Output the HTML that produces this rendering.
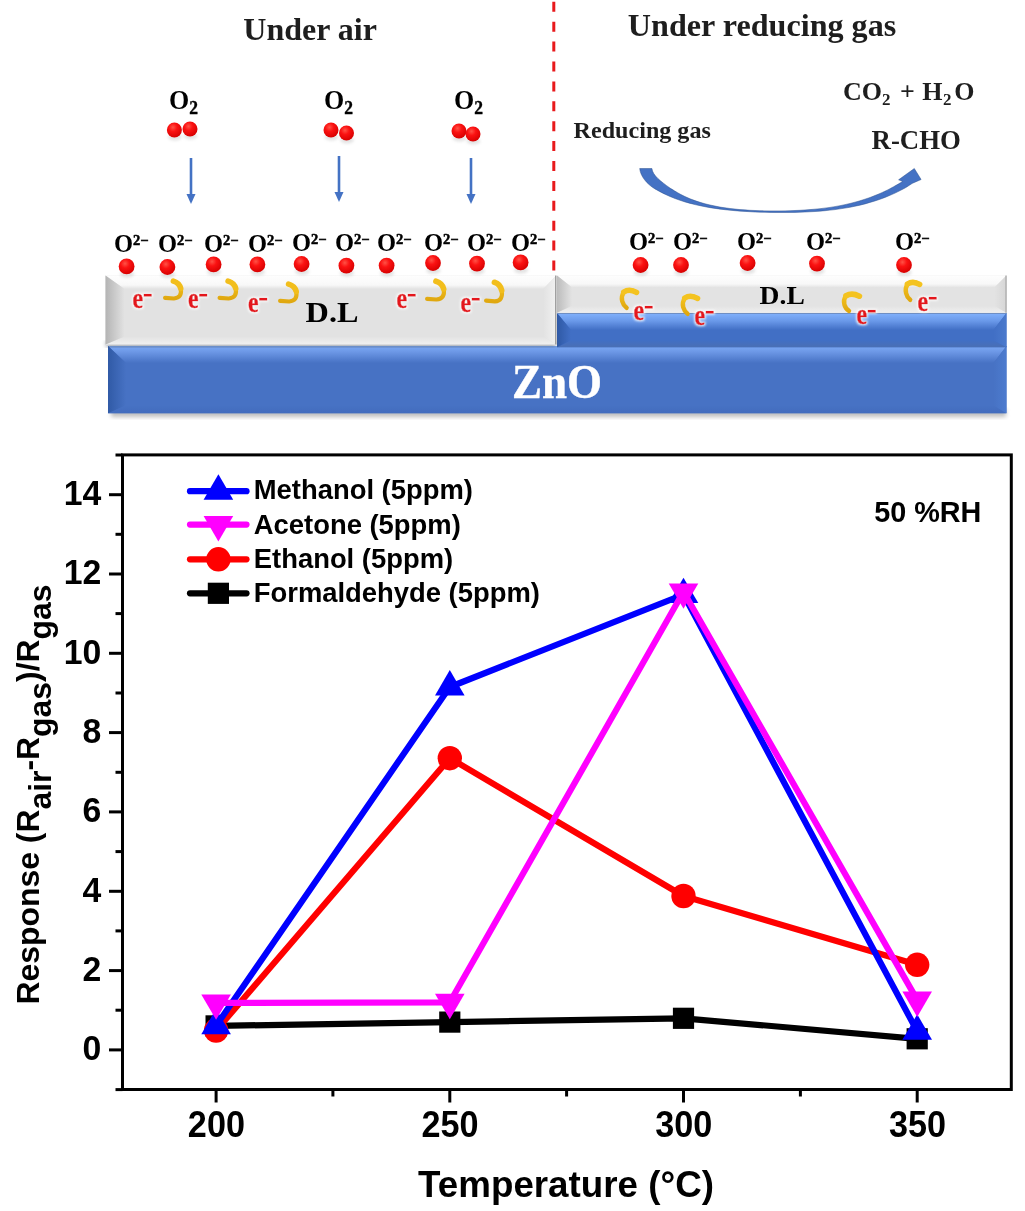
<!DOCTYPE html><html><head><meta charset="utf-8"><title>ZnO gas sensing</title>
<style>html,body{margin:0;padding:0;background:#fff}svg{display:block;filter:blur(0.45px)}.s{font-family:"Liberation Sans",sans-serif;font-weight:bold;fill:#000}.t{font-family:"Liberation Serif",serif;font-weight:bold;fill:#1e1e1e}</style></head><body>
<svg width="1025" height="1211" viewBox="0 0 1025 1211">
<defs>
<radialGradient id="ball" cx="0.4" cy="0.32" r="0.7"><stop offset="0" stop-color="#ff5246"/><stop offset="0.4" stop-color="#fb1212"/><stop offset="1" stop-color="#d60000"/></radialGradient>
<linearGradient id="gface" x1="0" y1="0" x2="0" y2="1"><stop offset="0" stop-color="#ececec"/><stop offset="1" stop-color="#dedede"/></linearGradient>
<linearGradient id="bface" x1="0" y1="0" x2="0" y2="1"><stop offset="0" stop-color="#4b78c8"/><stop offset="1" stop-color="#4370c2"/></linearGradient>
<linearGradient id="gold" x1="0" y1="0" x2="0" y2="1"><stop offset="0" stop-color="#f6c520"/><stop offset="1" stop-color="#e0a810"/></linearGradient>
<filter id="sh" x="-5%" y="-20%" width="110%" height="150%"><feGaussianBlur stdDeviation="2.2"/></filter>
<filter id="glow" x="-40%" y="-40%" width="180%" height="180%"><feMorphology operator="dilate" radius="0.8" in="SourceAlpha" result="d"/><feGaussianBlur in="d" stdDeviation="1.3" result="b"/><feFlood flood-color="#fff" flood-opacity="0.85"/><feComposite in2="b" operator="in" result="g"/><feMerge><feMergeNode in="g"/><feMergeNode in="SourceGraphic"/></feMerge></filter>
<filter id="bsh" x="-30%" y="-30%" width="160%" height="180%"><feGaussianBlur stdDeviation="1.5"/></filter>
</defs>
<rect width="1025" height="1211" fill="#fff"/>
<rect x="111" y="409" width="895" height="8" fill="#8a8a8a" opacity="0.55" filter="url(#sh)"/>
<defs>
<linearGradient id="g1" x1="0" y1="0" x2="0" y2="1"><stop offset="0" stop-color="#7aa8f4"/><stop offset="0.3" stop-color="#6f9ae8"/><stop offset="1" stop-color="#4772c4"/></linearGradient>
<linearGradient id="g2" x1="0" y1="0" x2="1" y2="0"><stop offset="0" stop-color="#305aa6"/><stop offset="1" stop-color="#4772c4"/></linearGradient>
<linearGradient id="g3" x1="0" y1="0" x2="1" y2="0"><stop offset="0" stop-color="#4772c4"/><stop offset="1" stop-color="#4d7ccf"/></linearGradient>
<linearGradient id="g4" x1="0" y1="0" x2="0" y2="1"><stop offset="0" stop-color="#4772c4"/><stop offset="1" stop-color="#426cbd"/></linearGradient>
</defs>
<rect x="108" y="346" width="898.5" height="67.19999999999999" fill="#4772c4"/>
<polygon points="108,413.2 126,405.2 993.5,405.2 1006.5,413.2" fill="url(#g4)"/>
<polygon points="108,346 1006.5,346 993.5,363 126,363" fill="url(#g1)"/>
<polygon points="108,346 126,363 126,405.2 108,413.2" fill="url(#g2)"/>
<polygon points="1006.5,346 1006.5,413.2 993.5,405.2 993.5,363" fill="url(#g3)"/>
<defs>
<linearGradient id="g5" x1="0" y1="0" x2="0" y2="1"><stop offset="0" stop-color="#82b2fd"/><stop offset="0.45" stop-color="#6b9aea"/><stop offset="1" stop-color="#416fc5"/></linearGradient>
<linearGradient id="g6" x1="0" y1="0" x2="1" y2="0"><stop offset="0" stop-color="#2f59a5"/><stop offset="1" stop-color="#416fc5"/></linearGradient>
<linearGradient id="g7" x1="0" y1="0" x2="1" y2="0"><stop offset="0" stop-color="#416fc5"/><stop offset="1" stop-color="#4b7acd"/></linearGradient>
<linearGradient id="g8" x1="0" y1="0" x2="0" y2="1"><stop offset="0" stop-color="#416fc5"/><stop offset="1" stop-color="#4a6fb4"/></linearGradient>
</defs>
<rect x="557" y="313" width="449.5" height="34.19999999999999" fill="#416fc5"/>
<polygon points="557,347.2 571,340.2 993.5,340.2 1006.5,347.2" fill="url(#g8)"/>
<polygon points="557,313 1006.5,313 993.5,330 571,330" fill="url(#g5)"/>
<polygon points="557,313 571,330 571,340.2 557,347.2" fill="url(#g6)"/>
<polygon points="1006.5,313 1006.5,347.2 993.5,340.2 993.5,330" fill="url(#g7)"/>
<rect x="557" y="312.6" width="449.5" height="1.4" fill="#6f8fc4"/>
<rect x="106" y="341.5" width="450" height="5" fill="#4a5568" opacity="0.6" filter="url(#sh)"/>
<defs>
<linearGradient id="g9" x1="0" y1="0" x2="0" y2="1"><stop offset="0" stop-color="#fefefe"/><stop offset="0.7" stop-color="#f8f8f8"/><stop offset="1" stop-color="#e2e2e2"/></linearGradient>
<linearGradient id="g10" x1="0" y1="0" x2="1" y2="0"><stop offset="0" stop-color="#b4b4b4"/><stop offset="1" stop-color="#e2e2e2"/></linearGradient>
<linearGradient id="g11" x1="0" y1="0" x2="1" y2="0"><stop offset="0" stop-color="#e2e2e2"/><stop offset="1" stop-color="#f1f1f1"/></linearGradient>
<linearGradient id="g12" x1="0" y1="0" x2="0" y2="1"><stop offset="0" stop-color="#e2e2e2"/><stop offset="1" stop-color="#f0f0f0"/></linearGradient>
</defs>
<rect x="105.5" y="275.6" width="450.79999999999995" height="68.79999999999995" fill="#e2e2e2"/>
<polygon points="105.5,344.4 124.5,336.4 543.3,336.4 556.3,344.4" fill="url(#g12)"/>
<polygon points="105.5,275.6 556.3,275.6 543.3,289.1 124.5,289.1" fill="url(#g9)"/>
<polygon points="105.5,275.6 124.5,289.1 124.5,336.4 105.5,344.4" fill="url(#g10)"/>
<polygon points="556.3,275.6 556.3,344.4 543.3,336.4 543.3,289.1" fill="url(#g11)"/>
<line x1="555.8" y1="275.6" x2="555.8" y2="344.4" stroke="#8c8c8c" stroke-width="1.2"/>
<defs>
<linearGradient id="g13" x1="0" y1="0" x2="0" y2="1"><stop offset="0" stop-color="#fefefe"/><stop offset="0.7" stop-color="#f8f8f8"/><stop offset="1" stop-color="#e3e3e3"/></linearGradient>
<linearGradient id="g14" x1="0" y1="0" x2="1" y2="0"><stop offset="0" stop-color="#bcbcbc"/><stop offset="1" stop-color="#e3e3e3"/></linearGradient>
<linearGradient id="g15" x1="0" y1="0" x2="1" y2="0"><stop offset="0" stop-color="#e3e3e3"/><stop offset="1" stop-color="#d6d6d6"/></linearGradient>
<linearGradient id="g16" x1="0" y1="0" x2="0" y2="1"><stop offset="0" stop-color="#e3e3e3"/><stop offset="1" stop-color="#efefef"/></linearGradient>
</defs>
<rect x="557" y="275.6" width="449.5" height="37.19999999999999" fill="#e3e3e3"/>
<polygon points="557,312.8 572,305.8 994.5,305.8 1006.5,312.8" fill="url(#g16)"/>
<polygon points="557,275.6 1006.5,275.6 994.5,287.6 572,287.6" fill="url(#g13)"/>
<polygon points="557,275.6 572,287.6 572,305.8 557,312.8" fill="url(#g14)"/>
<polygon points="1006.5,275.6 1006.5,312.8 994.5,305.8 994.5,287.6" fill="url(#g15)"/>
<line x1="1006.0" y1="275.6" x2="1006.0" y2="312.8" stroke="#a8a8a8" stroke-width="1.2"/>
<text transform="translate(557,398) scale(1,1.1)" text-anchor="middle" class="t" style="fill:#fff;stroke:#fff;stroke-width:0.4px;font-size:45px">ZnO</text>
<line x1="553.8" y1="1.8" x2="553.8" y2="271" stroke="#e8191c" stroke-width="3" stroke-dasharray="10 9.9"/>
<text x="243.3" y="40.3" class="t" style="font-size:32px">Under air</text>
<text x="627.8" y="36.1" class="t" style="font-size:32.15px">Under reducing gas</text>
<text x="573.6" y="138" class="t" style="font-size:24.1px">Reducing gas</text>
<text x="843" y="99.5" class="t" style="font-size:26px">CO<tspan dy="5.5" style="font-size:17px">2</tspan><tspan dy="-5.5" dx="3"> +</tspan><tspan dx="1"> H</tspan><tspan dy="5.5" dx="0.5" style="font-size:17px">2</tspan><tspan dy="-5.5" dx="2.6">O</tspan></text>
<text x="871.6" y="149" class="t" style="font-size:26.8px">R-CHO</text>
<text transform="translate(169,109.2) scale(1,1.07)" class="t" style="fill:#000;font-size:26px">O<tspan dy="4.6" style="font-size:17.5px;stroke:#000;stroke-width:0.4px">2</tspan></text>
<ellipse cx="174.9" cy="137.125" rx="6.75" ry="3.375" fill="#777" opacity="0.2" filter="url(#bsh)"/><circle cx="174.4" cy="130" r="7.5" fill="url(#ball)"/>
<ellipse cx="190.5" cy="136.125" rx="6.75" ry="3.375" fill="#777" opacity="0.2" filter="url(#bsh)"/><circle cx="190" cy="129" r="7.5" fill="url(#ball)"/>
<line x1="191" y1="158" x2="191" y2="198" stroke="#4472c4" stroke-width="2.6"/>
<polygon points="186.5,194 195.5,194 191,204" fill="#4472c4"/>
<text transform="translate(324,109.2) scale(1,1.07)" class="t" style="fill:#000;font-size:26px">O<tspan dy="4.6" style="font-size:17.5px;stroke:#000;stroke-width:0.4px">2</tspan></text>
<ellipse cx="331.5" cy="137.125" rx="6.75" ry="3.375" fill="#777" opacity="0.2" filter="url(#bsh)"/><circle cx="331" cy="130" r="7.5" fill="url(#ball)"/>
<ellipse cx="347.0" cy="140.125" rx="6.75" ry="3.375" fill="#777" opacity="0.2" filter="url(#bsh)"/><circle cx="346.5" cy="133" r="7.5" fill="url(#ball)"/>
<line x1="339" y1="156" x2="339" y2="196" stroke="#4472c4" stroke-width="2.6"/>
<polygon points="334.5,192 343.5,192 339,202" fill="#4472c4"/>
<text transform="translate(454,109.2) scale(1,1.07)" class="t" style="fill:#000;font-size:26px">O<tspan dy="4.6" style="font-size:17.5px;stroke:#000;stroke-width:0.4px">2</tspan></text>
<ellipse cx="459.5" cy="138.125" rx="6.75" ry="3.375" fill="#777" opacity="0.2" filter="url(#bsh)"/><circle cx="459" cy="131" r="7.5" fill="url(#ball)"/>
<ellipse cx="473.5" cy="141.125" rx="6.75" ry="3.375" fill="#777" opacity="0.2" filter="url(#bsh)"/><circle cx="473" cy="134" r="7.5" fill="url(#ball)"/>
<line x1="471" y1="158" x2="471" y2="198" stroke="#4472c4" stroke-width="2.6"/>
<polygon points="466.5,194 475.5,194 471,204" fill="#4472c4"/>
<text x="114" y="251.6" class="t" style="fill:#000;font-size:24.5px">O<tspan dy="-7" style="font-size:14.5px;stroke:#000;stroke-width:0.5px">2−</tspan></text>
<text x="158" y="251.6" class="t" style="fill:#000;font-size:24.5px">O<tspan dy="-7" style="font-size:14.5px;stroke:#000;stroke-width:0.5px">2−</tspan></text>
<text x="204" y="251.6" class="t" style="fill:#000;font-size:24.5px">O<tspan dy="-7" style="font-size:14.5px;stroke:#000;stroke-width:0.5px">2−</tspan></text>
<text x="248" y="251.6" class="t" style="fill:#000;font-size:24.5px">O<tspan dy="-7" style="font-size:14.5px;stroke:#000;stroke-width:0.5px">2−</tspan></text>
<text x="292" y="250.6" class="t" style="fill:#000;font-size:24.5px">O<tspan dy="-7" style="font-size:14.5px;stroke:#000;stroke-width:0.5px">2−</tspan></text>
<text x="335" y="250.6" class="t" style="fill:#000;font-size:24.5px">O<tspan dy="-7" style="font-size:14.5px;stroke:#000;stroke-width:0.5px">2−</tspan></text>
<text x="377" y="250.6" class="t" style="fill:#000;font-size:24.5px">O<tspan dy="-7" style="font-size:14.5px;stroke:#000;stroke-width:0.5px">2−</tspan></text>
<text x="424" y="250.6" class="t" style="fill:#000;font-size:24.5px">O<tspan dy="-7" style="font-size:14.5px;stroke:#000;stroke-width:0.5px">2−</tspan></text>
<text x="467" y="250.6" class="t" style="fill:#000;font-size:24.5px">O<tspan dy="-7" style="font-size:14.5px;stroke:#000;stroke-width:0.5px">2−</tspan></text>
<text x="511" y="250.6" class="t" style="fill:#000;font-size:24.5px">O<tspan dy="-7" style="font-size:14.5px;stroke:#000;stroke-width:0.5px">2−</tspan></text>
<text x="629" y="249.5" class="t" style="fill:#000;font-size:24.5px">O<tspan dy="-7" style="font-size:14.5px;stroke:#000;stroke-width:0.5px">2−</tspan></text>
<text x="673" y="249.5" class="t" style="fill:#000;font-size:24.5px">O<tspan dy="-7" style="font-size:14.5px;stroke:#000;stroke-width:0.5px">2−</tspan></text>
<text x="737" y="249.5" class="t" style="fill:#000;font-size:24.5px">O<tspan dy="-7" style="font-size:14.5px;stroke:#000;stroke-width:0.5px">2−</tspan></text>
<text x="806" y="249.5" class="t" style="fill:#000;font-size:24.5px">O<tspan dy="-7" style="font-size:14.5px;stroke:#000;stroke-width:0.5px">2−</tspan></text>
<text x="895" y="249.5" class="t" style="fill:#000;font-size:24.5px">O<tspan dy="-7" style="font-size:14.5px;stroke:#000;stroke-width:0.5px">2−</tspan></text>
<ellipse cx="127.1" cy="273.905" rx="7.11" ry="3.555" fill="#777" opacity="0.2" filter="url(#bsh)"/><circle cx="126.6" cy="266.4" r="7.9" fill="url(#ball)"/>
<ellipse cx="167.9" cy="274.505" rx="7.11" ry="3.555" fill="#777" opacity="0.2" filter="url(#bsh)"/><circle cx="167.4" cy="267" r="7.9" fill="url(#ball)"/>
<ellipse cx="214.1" cy="271.905" rx="7.11" ry="3.555" fill="#777" opacity="0.2" filter="url(#bsh)"/><circle cx="213.6" cy="264.4" r="7.9" fill="url(#ball)"/>
<ellipse cx="257.9" cy="271.905" rx="7.11" ry="3.555" fill="#777" opacity="0.2" filter="url(#bsh)"/><circle cx="257.4" cy="264.4" r="7.9" fill="url(#ball)"/>
<ellipse cx="302.1" cy="271.505" rx="7.11" ry="3.555" fill="#777" opacity="0.2" filter="url(#bsh)"/><circle cx="301.6" cy="264" r="7.9" fill="url(#ball)"/>
<ellipse cx="346.9" cy="273.105" rx="7.11" ry="3.555" fill="#777" opacity="0.2" filter="url(#bsh)"/><circle cx="346.4" cy="265.6" r="7.9" fill="url(#ball)"/>
<ellipse cx="387.1" cy="273.105" rx="7.11" ry="3.555" fill="#777" opacity="0.2" filter="url(#bsh)"/><circle cx="386.6" cy="265.6" r="7.9" fill="url(#ball)"/>
<ellipse cx="433.5" cy="270.505" rx="7.11" ry="3.555" fill="#777" opacity="0.2" filter="url(#bsh)"/><circle cx="433" cy="263" r="7.9" fill="url(#ball)"/>
<ellipse cx="477.5" cy="271.105" rx="7.11" ry="3.555" fill="#777" opacity="0.2" filter="url(#bsh)"/><circle cx="477" cy="263.6" r="7.9" fill="url(#ball)"/>
<ellipse cx="521.1" cy="269.905" rx="7.11" ry="3.555" fill="#777" opacity="0.2" filter="url(#bsh)"/><circle cx="520.6" cy="262.4" r="7.9" fill="url(#ball)"/>
<ellipse cx="641.1" cy="272.505" rx="7.11" ry="3.555" fill="#777" opacity="0.2" filter="url(#bsh)"/><circle cx="640.6" cy="265" r="7.9" fill="url(#ball)"/>
<ellipse cx="681.5" cy="272.505" rx="7.11" ry="3.555" fill="#777" opacity="0.2" filter="url(#bsh)"/><circle cx="681" cy="265" r="7.9" fill="url(#ball)"/>
<ellipse cx="748.1" cy="270.505" rx="7.11" ry="3.555" fill="#777" opacity="0.2" filter="url(#bsh)"/><circle cx="747.6" cy="263" r="7.9" fill="url(#ball)"/>
<ellipse cx="817.5" cy="271.105" rx="7.11" ry="3.555" fill="#777" opacity="0.2" filter="url(#bsh)"/><circle cx="817" cy="263.6" r="7.9" fill="url(#ball)"/>
<ellipse cx="904.5" cy="272.505" rx="7.11" ry="3.555" fill="#777" opacity="0.2" filter="url(#bsh)"/><circle cx="904" cy="265" r="7.9" fill="url(#ball)"/>
<text transform="translate(305.6,322) scale(1.06,1)" class="t" style="fill:#000;font-size:30.5px">D.L</text>
<text transform="translate(759.6,304) scale(1.06,1)" class="t" style="fill:#000;font-size:26px">D.L</text>
<text transform="translate(132.5,308) scale(0.82,1)" x="0" y="0" class="t" filter="url(#glow)" style="fill:#e4141c;stroke:#e4141c;stroke-width:0.7px;font-size:29px">e<tspan dy="-6.6" dx="0.6" style="font-size:18px;stroke-width:1.5px">−</tspan></text>
<text transform="translate(188,308) scale(0.82,1)" x="0" y="0" class="t" filter="url(#glow)" style="fill:#e4141c;stroke:#e4141c;stroke-width:0.7px;font-size:29px">e<tspan dy="-6.6" dx="0.6" style="font-size:18px;stroke-width:1.5px">−</tspan></text>
<text transform="translate(248,312) scale(0.82,1)" x="0" y="0" class="t" filter="url(#glow)" style="fill:#e4141c;stroke:#e4141c;stroke-width:0.7px;font-size:29px">e<tspan dy="-6.6" dx="0.6" style="font-size:18px;stroke-width:1.5px">−</tspan></text>
<text transform="translate(396.5,308) scale(0.82,1)" x="0" y="0" class="t" filter="url(#glow)" style="fill:#e4141c;stroke:#e4141c;stroke-width:0.7px;font-size:29px">e<tspan dy="-6.6" dx="0.6" style="font-size:18px;stroke-width:1.5px">−</tspan></text>
<text transform="translate(460.5,312) scale(0.82,1)" x="0" y="0" class="t" filter="url(#glow)" style="fill:#e4141c;stroke:#e4141c;stroke-width:0.7px;font-size:29px">e<tspan dy="-6.6" dx="0.6" style="font-size:18px;stroke-width:1.5px">−</tspan></text>
<text transform="translate(633.5,320) scale(0.82,1)" x="0" y="0" class="t" filter="url(#glow)" style="fill:#e4141c;stroke:#e4141c;stroke-width:0.7px;font-size:29px">e<tspan dy="-6.6" dx="0.6" style="font-size:18px;stroke-width:1.5px">−</tspan></text>
<text transform="translate(694.5,325) scale(0.82,1)" x="0" y="0" class="t" filter="url(#glow)" style="fill:#e4141c;stroke:#e4141c;stroke-width:0.7px;font-size:29px">e<tspan dy="-6.6" dx="0.6" style="font-size:18px;stroke-width:1.5px">−</tspan></text>
<text transform="translate(856.5,324) scale(0.82,1)" x="0" y="0" class="t" filter="url(#glow)" style="fill:#e4141c;stroke:#e4141c;stroke-width:0.7px;font-size:29px">e<tspan dy="-6.6" dx="0.6" style="font-size:18px;stroke-width:1.5px">−</tspan></text>
<text transform="translate(917.5,311) scale(0.82,1)" x="0" y="0" class="t" filter="url(#glow)" style="fill:#e4141c;stroke:#e4141c;stroke-width:0.7px;font-size:29px">e<tspan dy="-6.6" dx="0.6" style="font-size:18px;stroke-width:1.5px">−</tspan></text>
<path d="M165.1,297.9 L173.9,298.5 Q182.4,297.9 180.7,288.4 Q179.3,282.8 173.4,281.1" fill="none" stroke="url(#gold)" stroke-width="4.2" stroke-linecap="round" stroke-linejoin="round"/><path d="M180.7,288.4 Q179.3,282.8 173.4,281.1" fill="none" stroke="#f2be1c" stroke-width="5.6" stroke-linecap="round"/>
<path d="M219.6,297.9 L228.7,298.5 Q237.4,297.9 235.7,288.4 Q234.2,282.8 228.1,281.1" fill="none" stroke="url(#gold)" stroke-width="4.2" stroke-linecap="round" stroke-linejoin="round"/><path d="M235.7,288.4 Q234.2,282.8 228.1,281.1" fill="none" stroke="#f2be1c" stroke-width="5.6" stroke-linecap="round"/>
<path d="M280.1,300.9 L289.2,301.5 Q297.9,300.9 296.2,291.4 Q294.7,285.8 288.6,284.1" fill="none" stroke="url(#gold)" stroke-width="4.2" stroke-linecap="round" stroke-linejoin="round"/><path d="M296.2,291.4 Q294.7,285.8 288.6,284.1" fill="none" stroke="#f2be1c" stroke-width="5.6" stroke-linecap="round"/>
<path d="M427.1,298.8 L436.4,299.5 Q445.4,298.8 443.7,288.9 Q442.1,283.0 435.9,281.2" fill="none" stroke="url(#gold)" stroke-width="4.2" stroke-linecap="round" stroke-linejoin="round"/><path d="M443.7,288.9 Q442.1,283.0 435.9,281.2" fill="none" stroke="#f2be1c" stroke-width="5.6" stroke-linecap="round"/>
<path d="M486.1,300.7 L494.9,301.4 Q503.4,300.7 501.7,290.4 Q500.3,284.1 494.4,282.3" fill="none" stroke="url(#gold)" stroke-width="4.2" stroke-linecap="round" stroke-linejoin="round"/><path d="M501.7,290.4 Q500.3,284.1 494.4,282.3" fill="none" stroke="#f2be1c" stroke-width="5.6" stroke-linecap="round"/>
<path d="M636.5,292.4 Q629.5,288.4 623.8,292.0 Q620.9,296.4 622.2,301.2 Q623.2,305.2 626.6,307.8" fill="none" stroke="url(#gold)" stroke-width="4.4" stroke-linecap="round" stroke-linejoin="round"/><path d="M636.5,292.4 Q629.5,288.4 623.8,292.0" fill="none" stroke="#f4c320" stroke-width="5.6" stroke-linecap="round"/>
<path d="M697.5,298.4 Q690.5,294.4 684.8,298.0 Q681.9,302.4 683.2,307.2 Q684.2,311.2 687.6,313.8" fill="none" stroke="url(#gold)" stroke-width="4.4" stroke-linecap="round" stroke-linejoin="round"/><path d="M697.5,298.4 Q690.5,294.4 684.8,298.0" fill="none" stroke="#f4c320" stroke-width="5.6" stroke-linecap="round"/>
<path d="M859.4,296.2 Q852.0,292.4 846.0,295.8 Q843.0,300.0 844.4,304.6 Q845.4,308.4 849.0,310.9" fill="none" stroke="url(#gold)" stroke-width="4.4" stroke-linecap="round" stroke-linejoin="round"/><path d="M859.4,296.2 Q852.0,292.4 846.0,295.8" fill="none" stroke="#f4c320" stroke-width="5.6" stroke-linecap="round"/>
<path d="M919.6,284.4 Q912.9,280.4 907.5,284.0 Q904.8,288.4 906.1,293.2 Q907.0,297.2 910.2,299.8" fill="none" stroke="url(#gold)" stroke-width="4.4" stroke-linecap="round" stroke-linejoin="round"/><path d="M919.6,284.4 Q912.9,280.4 907.5,284.0" fill="none" stroke="#f4c320" stroke-width="5.6" stroke-linecap="round"/>
<path d="M651.9,168.5 C652.6,175.5 661,181.5 670.0,188.1 C671.7,189.1 676.7,192.3 680.0,194.1 C683.3,195.9 686.7,197.4 690.0,198.8 C693.3,200.1 696.7,201.3 700.0,202.3 C703.3,203.4 706.7,204.3 710.0,205.0 C713.3,205.8 716.7,206.5 720.0,207.1 C723.3,207.6 726.7,208.1 730.0,208.5 C733.3,208.9 736.7,209.3 740.0,209.6 C743.3,209.8 746.7,210.1 750.0,210.3 C753.3,210.4 756.7,210.6 760.0,210.7 C763.3,210.8 766.7,210.9 770.0,210.9 C773.3,210.9 776.7,210.9 780.0,210.9 C783.3,210.9 786.7,210.8 790.0,210.7 C793.3,210.6 796.7,210.5 800.0,210.3 C803.3,210.1 806.7,209.9 810.0,209.6 C813.3,209.3 816.7,209.0 820.0,208.7 C823.3,208.3 826.7,207.9 830.0,207.4 C833.3,206.9 836.7,206.3 840.0,205.7 C843.3,205.0 846.7,204.3 850.0,203.5 C853.3,202.7 856.7,201.8 860.0,200.8 C863.3,199.8 866.7,198.7 870.0,197.5 C873.3,196.2 876.7,194.9 880.0,193.5 C883.3,192.0 886.2,190.7 890.0,188.7 C893.8,186.7 900.6,182.7 902.7,181.5 L898.6,179.8 L914.3,168.5 L921.1,179.5 L912.6,183.2 C911.3,184.0 907.9,186.3 905.0,188.0 C902.1,189.6 898.3,191.5 895.0,193.1 C891.7,194.6 888.3,196.1 885.0,197.4 C881.7,198.7 878.3,199.9 875.0,200.9 C871.7,202.0 868.3,203.0 865.0,203.9 C861.7,204.8 858.3,205.5 855.0,206.2 C851.7,207.0 848.3,207.6 845.0,208.1 C841.7,208.7 838.3,209.2 835.0,209.6 C831.7,210.0 828.3,210.4 825.0,210.7 C821.7,211.0 818.3,211.3 815.0,211.5 C811.7,211.7 808.3,211.9 805.0,212.0 C801.7,212.2 798.3,212.3 795.0,212.4 C791.7,212.5 788.3,212.5 785.0,212.5 C781.7,212.5 778.3,212.5 775.0,212.5 C771.7,212.5 768.3,212.4 765.0,212.3 C761.7,212.2 758.3,212.1 755.0,212.0 C751.7,211.8 748.3,211.6 745.0,211.4 C741.7,211.2 738.3,211.0 735.0,210.7 C731.7,210.4 728.3,210.1 725.0,209.7 C721.7,209.3 718.3,208.9 715.0,208.4 C711.7,207.9 708.3,207.4 705.0,206.7 C701.7,206.1 698.3,205.4 695.0,204.6 C691.7,203.8 688.3,202.9 685.0,201.9 C681.7,200.9 678.3,199.7 675.0,198.5 C671.7,197.2 668.3,195.8 665.0,194.2 C661.7,192.6 656.7,189.8 655.0,188.9 C647,184.3 640.3,176 639.7,168.5 Z" fill="#4472c4" stroke="#2f528f" stroke-width="0.5" stroke-linejoin="round"/>
<rect x="122.5" y="454.9" width="888.8" height="634.6" fill="none" stroke="#000" stroke-width="3"/>
<line x1="115.5" y1="1089.6" x2="122.5" y2="1089.6" stroke="#000" stroke-width="3"/>
<line x1="109.0" y1="1049.9" x2="122.5" y2="1049.9" stroke="#000" stroke-width="3"/>
<text transform="translate(101.2,1060.2) scale(0.965,1)" text-anchor="end" class="s" style="font-size:35px">0</text>
<line x1="115.5" y1="1010.2" x2="122.5" y2="1010.2" stroke="#000" stroke-width="3"/>
<line x1="109.0" y1="970.6" x2="122.5" y2="970.6" stroke="#000" stroke-width="3"/>
<text transform="translate(101.2,980.9) scale(0.965,1)" text-anchor="end" class="s" style="font-size:35px">2</text>
<line x1="115.5" y1="930.9" x2="122.5" y2="930.9" stroke="#000" stroke-width="3"/>
<line x1="109.0" y1="891.3" x2="122.5" y2="891.3" stroke="#000" stroke-width="3"/>
<text transform="translate(101.2,901.6) scale(0.965,1)" text-anchor="end" class="s" style="font-size:35px">4</text>
<line x1="115.5" y1="851.6" x2="122.5" y2="851.6" stroke="#000" stroke-width="3"/>
<line x1="109.0" y1="811.9" x2="122.5" y2="811.9" stroke="#000" stroke-width="3"/>
<text transform="translate(101.2,822.2) scale(0.965,1)" text-anchor="end" class="s" style="font-size:35px">6</text>
<line x1="115.5" y1="772.3" x2="122.5" y2="772.3" stroke="#000" stroke-width="3"/>
<line x1="109.0" y1="732.6" x2="122.5" y2="732.6" stroke="#000" stroke-width="3"/>
<text transform="translate(101.2,742.9) scale(0.965,1)" text-anchor="end" class="s" style="font-size:35px">8</text>
<line x1="115.5" y1="693.0" x2="122.5" y2="693.0" stroke="#000" stroke-width="3"/>
<line x1="109.0" y1="653.3" x2="122.5" y2="653.3" stroke="#000" stroke-width="3"/>
<text transform="translate(101.2,663.6) scale(0.965,1)" text-anchor="end" class="s" style="font-size:35px">10</text>
<line x1="115.5" y1="613.6" x2="122.5" y2="613.6" stroke="#000" stroke-width="3"/>
<line x1="109.0" y1="574.0" x2="122.5" y2="574.0" stroke="#000" stroke-width="3"/>
<text transform="translate(101.2,584.3) scale(0.965,1)" text-anchor="end" class="s" style="font-size:35px">12</text>
<line x1="115.5" y1="534.3" x2="122.5" y2="534.3" stroke="#000" stroke-width="3"/>
<line x1="109.0" y1="494.7" x2="122.5" y2="494.7" stroke="#000" stroke-width="3"/>
<text transform="translate(101.2,505.0) scale(0.965,1)" text-anchor="end" class="s" style="font-size:35px">14</text>
<line x1="115.5" y1="455.0" x2="122.5" y2="455.0" stroke="#000" stroke-width="3"/>
<line x1="216.1" y1="1089.5" x2="216.1" y2="1102.5" stroke="#000" stroke-width="3"/>
<text transform="translate(216.4,1136.5) scale(0.95,1)" text-anchor="middle" class="s" style="font-size:36px">200</text>
<line x1="332.9" y1="1089.5" x2="332.9" y2="1096.5" stroke="#000" stroke-width="3"/>
<line x1="449.8" y1="1089.5" x2="449.8" y2="1102.5" stroke="#000" stroke-width="3"/>
<text transform="translate(450.1,1136.5) scale(0.95,1)" text-anchor="middle" class="s" style="font-size:36px">250</text>
<line x1="566.6" y1="1089.5" x2="566.6" y2="1096.5" stroke="#000" stroke-width="3"/>
<line x1="683.5" y1="1089.5" x2="683.5" y2="1102.5" stroke="#000" stroke-width="3"/>
<text transform="translate(683.8,1136.5) scale(0.95,1)" text-anchor="middle" class="s" style="font-size:36px">300</text>
<line x1="800.4" y1="1089.5" x2="800.4" y2="1096.5" stroke="#000" stroke-width="3"/>
<line x1="917.2" y1="1089.5" x2="917.2" y2="1102.5" stroke="#000" stroke-width="3"/>
<text transform="translate(917.5,1136.5) scale(0.95,1)" text-anchor="middle" class="s" style="font-size:36px">350</text>
<text x="566" y="1196.8" text-anchor="middle" class="s" style="font-size:36.75px">Temperature (°C)</text>
<text transform="translate(39,1004.5) rotate(-90)" class="s" style="font-size:31.9px">Response (R<tspan dy="12">air</tspan><tspan dy="-12">-R</tspan><tspan dy="12">gas</tspan><tspan dy="-12">)/R</tspan><tspan dy="12">gas</tspan></text>
<text x="874.2" y="521.8" class="s" style="font-size:28.8px">50 %RH</text>
<polyline points="216.1,1025.9 449.8,1022.1 683.5,1018.3 917.2,1038.8" fill="none" stroke="#000" stroke-width="6.2" stroke-linejoin="round"/>
<rect x="205.5" y="1015.3" width="21.2" height="21.2" fill="#000"/>
<rect x="439.2" y="1011.5" width="21.2" height="21.2" fill="#000"/>
<rect x="672.9" y="1007.7" width="21.2" height="21.2" fill="#000"/>
<rect x="906.6" y="1028.2" width="21.2" height="21.2" fill="#000"/>
<polyline points="216.1,1030.5 449.8,758.2 683.5,896.0 917.2,964.8" fill="none" stroke="#ff0000" stroke-width="6.2" stroke-linejoin="round"/>
<circle cx="216.1" cy="1030.5" r="12.2" fill="#ff0000"/>
<circle cx="449.8" cy="758.2" r="12.2" fill="#ff0000"/>
<circle cx="683.5" cy="896.0" r="12.2" fill="#ff0000"/>
<circle cx="917.2" cy="964.8" r="12.2" fill="#ff0000"/>
<polyline points="216.1,1025.7 449.8,687.0 683.5,594.6 917.2,1031.3" fill="none" stroke="#0000ff" stroke-width="6.2" stroke-linejoin="round"/>
<polygon points="216.1,1008.8 230.9,1034.2 201.3,1034.2" fill="#0000ff"/>
<polygon points="449.8,670.1 464.6,695.5 435.0,695.5" fill="#0000ff"/>
<polygon points="683.5,577.7 698.3,603.1 668.7,603.1" fill="#0000ff"/>
<polygon points="917.2,1014.3 932.0,1039.7 902.4,1039.7" fill="#0000ff"/>
<polyline points="216.1,1002.9 449.8,1002.3 683.5,591.8 917.2,999.9" fill="none" stroke="#ff00ff" stroke-width="6.2" stroke-linejoin="round"/>
<polygon points="216.1,1019.8 230.9,994.4 201.3,994.4" fill="#ff00ff"/>
<polygon points="449.8,1019.2 464.6,993.8 435.0,993.8" fill="#ff00ff"/>
<polygon points="683.5,608.8 698.3,583.4 668.7,583.4" fill="#ff00ff"/>
<polygon points="917.2,1016.9 932.0,991.5 902.4,991.5" fill="#ff00ff"/>
<line x1="190" y1="491.2" x2="246.5" y2="491.2" stroke="#0000ff" stroke-width="6.2" stroke-linecap="round"/>
<polygon points="218.4,474.3 233.2,499.7 203.6,499.7" fill="#0000ff"/>
<text x="253.8" y="499.4" class="s" style="font-size:27.4px">Methanol (5ppm)</text>
<line x1="190" y1="524.6" x2="246.5" y2="524.6" stroke="#ff00ff" stroke-width="6.2" stroke-linecap="round"/>
<polygon points="218.4,541.5 233.2,516.1 203.6,516.1" fill="#ff00ff"/>
<text x="253.8" y="533.5" class="s" style="font-size:27.4px">Acetone (5ppm)</text>
<line x1="190" y1="559.3" x2="246.5" y2="559.3" stroke="#ff0000" stroke-width="6.2" stroke-linecap="round"/>
<circle cx="218.4" cy="559.3" r="12.2" fill="#ff0000"/>
<text x="253.8" y="567.7" class="s" style="font-size:27.4px">Ethanol (5ppm)</text>
<line x1="190" y1="593.3" x2="246.5" y2="593.3" stroke="#000" stroke-width="6.2" stroke-linecap="round"/>
<rect x="207.8" y="582.7" width="21.2" height="21.2" fill="#000"/>
<text x="253.8" y="601.8" class="s" style="font-size:27.4px">Formaldehyde (5ppm)</text>
</svg></body></html>
